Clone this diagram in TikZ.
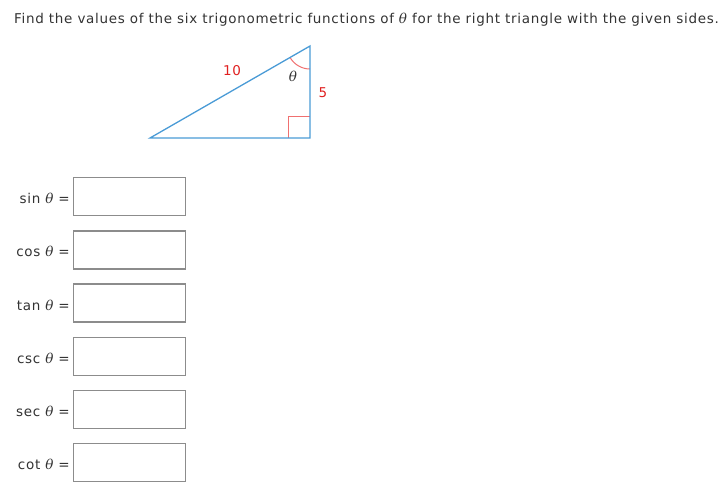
\documentclass[tikz,border=0pt]{standalone}
\usepackage{fontspec}
\setmainfont{DejaVu Sans}[LetterSpace=5.2]
\newfontfamily\thetafont{DejaVu Serif}
\newcommand*{\thetasym}{{\thetafont\itshape θ}}
\usepackage{xcolor}
\definecolor{sideblue}{HTML}{4A9BD6}
\definecolor{markred}{HTML}{F07070}
\definecolor{labelred}{HTML}{E02020}
\definecolor{textgray}{HTML}{333333}
\definecolor{boxgray}{HTML}{8C8C8C}
\begin{document}
\begin{tikzpicture}[x=1pt, y=-1pt, font=\fontsize{13.5}{16}\selectfont, text=textgray,
  ansbox/.style={draw=boxgray, line width=1.3pt, minimum width=112pt, minimum height=38pt, inner sep=0pt}]
\useasboundingbox (0,0) rectangle (728,488);
\node[anchor=base west, inner sep=0pt] (question) at (14,23) {Find the values of the six trigonometric functions of \thetasym{} for the right triangle with the given sides.};
% triangle
\coordinate (A) at (150,138);
\coordinate (B) at (310,138);
\coordinate (C) at (310,46);
\draw[markred, line width=1pt] ([xshift=-22pt]B) -- ++(0,-22) -- ++(22,0);
\draw[markred, line width=1pt] (C) ++(150.1:23) arc[start angle=150.1, end angle=90, radius=23];
\draw[sideblue, line width=1.3pt] (A) -- (B) -- (C) -- cycle;
\node[labelred] (hyp) at (232,71) {10};
\node (theta) at (293,76) {\thetasym};
\node[labelred] (leg) at (323,93) {5};
% answer boxes
\foreach \fn [count=\i] in {sin,cos,tan,csc,sec,cot}{
  \node[ansbox, anchor=north west] (box\fn) at (73, 177+53.2*\i-53.2) {};
  \node[anchor=east, inner sep=3pt, yshift=-2pt] (lbl\fn) at (box\fn.west) {\fn~\thetasym{} =};
}
\end{tikzpicture}
\end{document}
